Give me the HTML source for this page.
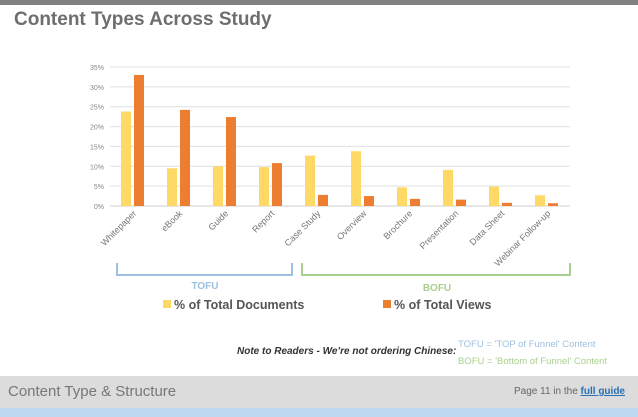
<!DOCTYPE html>
<html><head><meta charset="utf-8"><style>
body{margin:0;width:638px;height:417px;overflow:hidden;background:#fff;font-family:"Liberation Sans",sans-serif;position:relative}
.abs{position:absolute}
</style></head><body>
<div class="abs" style="left:0;top:0;width:638px;height:5px;background:#808080"></div>
<div class="abs" style="left:14px;top:9px;font-size:19px;font-weight:bold;color:#6e6e6e">Content Types Across Study</div>
<svg class="abs" style="left:0;top:0" width="638" height="417">
<g id="g"></g>
<path d="M117 263 V275 H292 V263" fill="none" stroke="#9dbfe0" stroke-width="2"/>
<path d="M302 263 V275 H570 V263" fill="none" stroke="#a9d08e" stroke-width="2"/>
<text x="205" y="289" text-anchor="middle" font-size="10" font-weight="bold" fill="#9dbfe0">TOFU</text>
<text x="437" y="291" text-anchor="middle" font-size="10" font-weight="bold" fill="#a9d08e">BOFU</text>
<rect x="163" y="300" width="8" height="8" fill="#ffd966"/>
<text x="174" y="309" font-size="12.5" font-weight="bold" fill="#555">% of Total Documents</text>
<rect x="383" y="300" width="8" height="8" fill="#ed7d31"/>
<text x="394" y="309" font-size="12.5" font-weight="bold" fill="#555">% of Total Views</text>
</svg>
<div class="abs" style="left:237px;top:346px;font-size:10px;font-weight:bold;font-style:italic;color:#333">Note to Readers - We’re not ordering Chinese:</div>
<div class="abs" style="left:458px;top:339px;font-size:9.5px;color:#9dbfe0">TOFU = 'TOP of Funnel' Content</div>
<div class="abs" style="left:458px;top:356px;font-size:9.5px;color:#a9d08e">BOFU = 'Bottom of Funnel' Content</div>
<div class="abs" style="left:0;top:376px;width:638px;height:32px;background:#dcdcdc"></div>
<div class="abs" style="left:8px;top:383px;font-size:15px;color:#777">Content Type &amp; Structure</div>
<div class="abs" style="left:514px;top:386px;font-size:10px;color:#666">Page 11 in the <a href="#" style="color:#2a6fb5;font-weight:bold">full guide</a></div>
<div class="abs" style="left:0;top:408px;width:638px;height:9px;background:#bdd7ee"></div>
<script>
const categories=["Whitepaper","eBook","Guide","Report","Case Study","Overview","Brochure","Presentation","Data Sheet","Webinar Follow-up"];
const docs=[23.8,9.5,10,9.8,12.7,13.8,4.7,9.1,4.9,2.7];
const views=[33,24.2,22.4,10.8,2.8,2.5,1.8,1.6,0.8,0.7];
const ticks=[0,5,10,15,20,25,30,35];
const NS="http://www.w3.org/2000/svg",g=document.getElementById('g');
const x0=110,cw=46,y0=206,ppu=139/35;
const X=i=>x0+cw*i+cw/2, Y=v=>y0-v*ppu;
function mk(t,a){const e=document.createElementNS(NS,t);for(const k in a)e.setAttribute(k,a[k]);g.appendChild(e);return e;}
ticks.forEach(t=>{
 const l=mk('line',{x1:x0,x2:570,y1:Y(t),y2:Y(t),stroke:t?'#e0e0e0':'#cfcfcf','stroke-width':1});
 
 
 const tx=mk('text',{x:104,y:Y(t)+3,'text-anchor':'end','font-size':7,fill:'#888'});tx.textContent=t+'%';
 
 
});
categories.forEach((c,i)=>{
 const b1=mk('rect',{x:X(i)-12,y:Y(docs[i]),width:10,height:docs[i]*ppu,fill:'#ffd966'});
 
 
 const b2=mk('rect',{x:X(i)+1,y:Y(views[i]),width:10,height:views[i]*ppu,fill:'#ed7d31'});
 
 
 const t=mk('text',{x:X(i)+4,y:214,'text-anchor':'end','font-size':9,fill:'#777',transform:`rotate(-45 ${X(i)+4} 214)`});
 t.textContent=c;
 
 
});
</script>
</body></html>
